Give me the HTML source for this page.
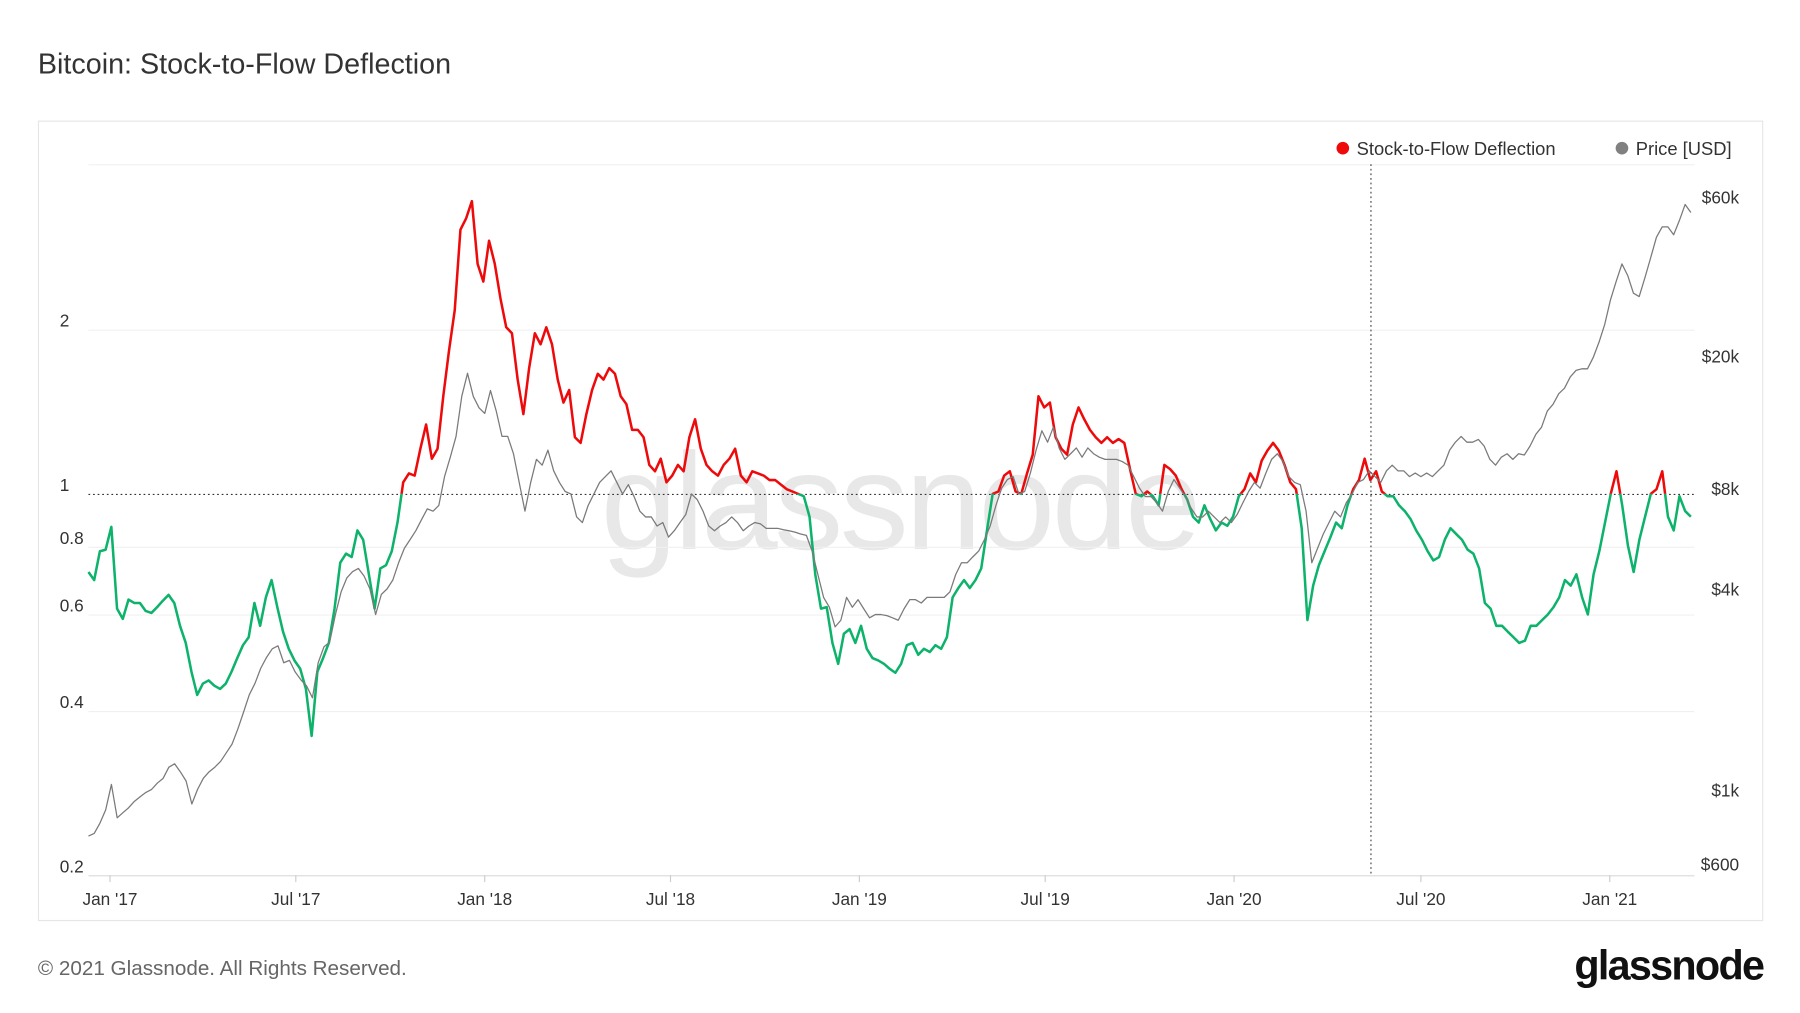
<!DOCTYPE html>
<html><head><meta charset="utf-8"><title>Bitcoin: Stock-to-Flow Deflection</title>
<style>
html,body{margin:0;padding:0;background:#fff;}
svg{display:block;font-family:"Liberation Sans",sans-serif;}
</style></head>
<body>
<svg id="chart" width="1800" height="1013" viewBox="0 0 1567 882" preserveAspectRatio="none" xmlns="http://www.w3.org/2000/svg">
<text x="33" y="64" font-size="25" fill="#333">Bitcoin: Stock-to-Flow Deflection</text>
<rect x="33.5" y="105.5" width="1501" height="696" fill="#fff" stroke="#e6e6e6"/>
<text x="783" y="478" font-size="120" fill="#e8e8e8" text-anchor="middle" letter-spacing="-3">glassnode</text>
<g id="grid"></g>
<g id="axes"></g>
<g id="series"></g>
<line x1="1193.5" y1="143" x2="1193.5" y2="762" stroke="#444" stroke-dasharray="1.5,2.5" stroke-width="1"/>
<g>
<g><circle cx="1169" cy="129" r="5.5" fill="#ee0a0a"/><text x="1181" y="135" font-size="16" fill="#333">Stock-to-Flow Deflection</text></g>
<g><circle cx="1412" cy="129" r="5.5" fill="#808080"/><text x="1424" y="135" font-size="16" fill="#333">Price [USD]</text></g>
</g>
<text x="33" y="849" font-size="18" fill="#666">© 2021 Glassnode. All Rights Reserved.</text>
<text x="1535" y="853" font-size="36" fill="#111" text-anchor="end" font-weight="bold" letter-spacing="-1.5">glassnode</text>
</svg>
<script>
const startDate = "2016-12-11";
const endDate = "2021-03-21";
const leftTicks = [0.2, 0.4, 0.6, 0.8, 1, 2];
const leftTickLabels = ["0.2", "0.4", "0.6", "0.8", "1", "2"];
const rightTicks = [600, 1000, 4000, 8000, 20000, 60000];
const rightTickLabels = ["$600", "$1k", "$4k", "$8k", "$20k", "$60k"];
const xTickDates = ["2017-01-01","2017-07-01","2018-01-01","2018-07-01","2019-01-01","2019-07-01","2020-01-01","2020-07-01","2021-01-01"];
const xTickLabels = ["Jan '17","Jul '17","Jan '18","Jul '18","Jan '19","Jul '19","Jan '20","Jul '20","Jan '21"];
const deflection = [.719,.695,.785,.79,.87,.616,.59,.64,.631,.631,.61,.605,.62,.637,.653,.631,.573,.533,.472,.428,.449,.455,.445,.439,.449,.472,.50,.528,.546,.631,.573,.646,.695,.62,.559,.52,.495,.478,.439,.36,.472,.50,.533,.616,.748,.777,.766,.857,.824,.712,.616,.73,.74,.785,.886,1.05,1.09,1.08,1.21,1.34,1.16,1.21,1.51,1.83,2.17,3.05,3.2,3.44,2.64,2.45,2.91,2.64,2.28,2.02,1.97,1.62,1.40,1.70,1.97,1.88,2.02,1.88,1.62,1.47,1.55,1.27,1.24,1.40,1.55,1.66,1.62,1.70,1.66,1.51,1.46,1.31,1.31,1.27,1.13,1.10,1.16,1.05,1.08,1.13,1.10,1.27,1.37,1.21,1.13,1.10,1.08,1.13,1.16,1.21,1.08,1.05,1.10,1.09,1.08,1.06,1.06,1.04,1.02,1.01,1.0,.99,.908,.712,.616,.62,.533,.488,.554,.565,.533,.573,.52,.50,.495,.488,.478,.47,.488,.528,.533,.507,.52,.513,.528,.52,.546,.646,.672,.695,.672,.695,.73,.857,1.0,1.01,1.08,1.10,1.01,1.0,1.09,1.18,1.51,1.44,1.47,1.27,1.21,1.18,1.34,1.44,1.37,1.31,1.27,1.24,1.27,1.24,1.26,1.24,1.11,1.0,.99,1.01,.99,.953,1.13,1.11,1.08,1.02,.976,.908,.886,.953,.9,.857,.886,.874,.908,.99,1.02,1.09,1.05,1.15,1.20,1.24,1.20,1.13,1.05,1.02,.865,.587,.679,.74,.785,.832,.886,.865,.953,1.02,1.06,1.16,1.06,1.10,1.01,.99,.99,.953,.93,.9,.857,.824,.785,.755,.766,.824,.865,.844,.824,.79,.777,.73,.631,.616,.573,.573,.559,.546,.533,.538,.573,.573,.587,.601,.62,.646,.695,.679,.712,.646,.601,.712,.785,.886,1.0,1.10,.953,.804,.719,.824,.908,1.0,1.02,1.10,.908,.857,.99,.93,.908];
const price = [732,745,800,877,1045,830,860,890,930,960,989,1010,1055,1090,1177,1205,1140,1070,913,1010,1090,1140,1177,1225,1300,1380,1530,1720,1940,2100,2330,2510,2665,2720,2420,2460,2270,2150,2060,1900,2420,2700,2790,3375,3950,4350,4540,4640,4400,4030,3375,3880,4030,4285,4825,5330,5660,6020,6500,7000,6890,7165,8745,10000,11540,15220,17840,15220,14060,13520,15840,13750,11540,11540,10240,8400,6890,8400,9850,9465,10500,9100,8400,7890,7760,6620,6370,7165,7760,8400,8745,9100,8400,7760,8270,7620,6890,6620,6620,6220,6370,5760,6020,6370,6730,7760,7460,6890,6220,6020,6220,6370,6620,6370,6020,6220,6370,6310,6120,6120,6120,6060,6020,5960,5885,5830,5230,4450,3800,3550,3100,3245,3800,3550,3740,3510,3300,3375,3375,3350,3300,3245,3510,3740,3740,3655,3800,3800,3800,3800,3950,4450,4825,4825,5030,5230,5660,6220,7165,8075,8570,8745,7760,7890,8960,10500,12000,11090,12300,10660,9850,10240,10660,10000,10660,10240,10000,9850,9850,9850,9700,9465,8745,8075,7620,7620,7300,6890,7890,8570,8075,7620,7030,6620,6620,6890,6620,6370,6620,6370,6730,7300,7890,8400,8075,8960,9850,10240,9700,8745,8400,8270,6890,4825,5330,5885,6370,6890,6620,7300,7760,8400,8570,9100,8745,8400,9100,9465,9100,9100,8745,8960,8745,8960,8745,9100,9465,10500,11090,11540,11090,11090,11300,10800,9850,9465,10000,10240,9850,10240,10150,10800,11700,12300,13750,14400,15500,16100,17400,18200,18400,18400,19900,22100,25000,29600,33670,37950,35040,31000,30300,34500,39600,45600,49000,49000,46400,51200,57200,54100];

const NS = "http://www.w3.org/2000/svg";
const X0 = 77, X1 = 1472, PLOT_R = 1475, TOP = 143, BOT = 762;
const t0 = Date.parse(startDate), t1 = Date.parse(endDate);
function xScale(t){ return X0 + (t - t0) / (t1 - t0) * (X1 - X0); }
function xIndex(i, n){ return xScale(t0 + i / (n - 1) * (t1 - t0)); }
const yL = v => 430 - Math.log10(v) * 475;
const yR = p => 172 + (Math.log10(60000) - Math.log10(p)) * 290.5;
function mk(tag, attrs, parent){ const e = document.createElementNS(NS, tag); for (const k in attrs) e.setAttribute(k, attrs[k]); parent.appendChild(e); return e; }

const grid = document.getElementById('grid');
const axes = document.getElementById('axes');
const series = document.getElementById('series');

const tg = mk('line', {x1:X0, x2:PLOT_R, y1:TOP+.5, y2:TOP+.5, stroke:'#f0f0f0'}, grid);


leftTicks.forEach((v, i) => {
  const y = Math.round(yL(v)) + .5;
  const g = mk('line', {x1:X0, x2:PLOT_R, y1:y, y2:y, stroke: v === 1 ? '#333' : '#f0f0f0', 'stroke-dasharray': v === 1 ? '1.5,2.5' : 'none'}, grid);
  
  
  const t = mk('text', {x:52, y:y - 3, 'font-size':15, fill:'#333'}, axes);
  t.textContent = leftTickLabels[i];
  
  
});
rightTicks.forEach((p, i) => {
  const t = mk('text', {x:1514, y:yR(p) + 5, 'font-size':15, fill:'#333', 'text-anchor':'end'}, axes);
  t.textContent = rightTickLabels[i];
  
  
});
const xa = mk('line', {x1:X0, x2:PLOT_R, y1:BOT+.5, y2:BOT+.5, stroke:'#e0e0e0'}, axes);


xTickDates.forEach((d, i) => {
  const x = xScale(Date.parse(d));
  const tk = mk('line', {x1:x, x2:x, y1:BOT, y2:BOT+6, stroke:'#ccc'}, axes);
  
  
  const t = mk('text', {x:x, y:788, 'font-size':15, fill:'#333', 'text-anchor':'middle'}, axes);
  t.textContent = xTickLabels[i];
  
  
});

const defs = mk('defs', {}, series);
const y1 = yL(1);
const cpA = mk('clipPath', {id:'above'}, defs); mk('rect', {x:0, y:0, width:1567, height:y1}, cpA);
const cpB = mk('clipPath', {id:'below'}, defs); mk('rect', {x:0, y:y1, width:1567, height:882}, cpB);

const dPath = deflection.map((v, i) => (i ? 'L' : 'M') + xIndex(i, deflection.length).toFixed(2) + ',' + yL(v).toFixed(2)).join('');
const red = mk('path', {d:dPath, fill:'none', stroke:'#ee0a0a', 'stroke-width':2.2, 'stroke-linejoin':'round', 'clip-path':'url(#above)'}, series);


const green = mk('path', {d:dPath, fill:'none', stroke:'#0db26b', 'stroke-width':2.2, 'stroke-linejoin':'round', 'clip-path':'url(#below)'}, series);



const pPath = price.map((p, i) => (i ? 'L' : 'M') + xIndex(i, price.length).toFixed(2) + ',' + yR(p).toFixed(2)).join('');
const pl = mk('path', {d:pPath, fill:'none', stroke:'#7a7a7a', 'stroke-width':1.1, 'stroke-linejoin':'round'}, series);


</script>
</body></html>
